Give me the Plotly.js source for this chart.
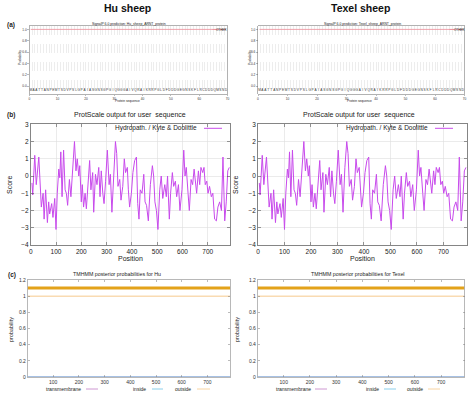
<!DOCTYPE html>
<html><head><meta charset="utf-8">
<script src="https://cdn.plot.ly/plotly-3.0.1.min.js"></script>
<style>html,body{margin:0;padding:0;background:#fff}#chart{width:474px;height:396px}</style>
</head><body><div id="chart"></div>
<script>
const W = 474, H = 396;

// ---------- (a) SignalP 6.0 : first 70 residues ----------
const huSeq    = "MAATTANPEMTSDVPSLGPAIASGNSGPGIQGGGAIVQRAIKRRPGLDFDDDGEGNSKFLRCDDDQMSND";
const texelSeq = "MAATTANPEMTSDVPSLGPAIASGNSGPGIQGGGAIVQRAIKRRPGLDFDDDGEGNSKFLRCDDDQMSND";
const signalTicks = [0, 10, 20, 30, 40, 50, 60, 70];
const signalProbTicks = [0, 0.2, 0.4, 0.6, 0.8, 1.0];
const otherProbHu    = [1,1,1,1,1,1,1,1,1,1,1,1,1,1,1,1,1,1,1,1,1,1,1,1,1,1,1,1,1,1,1,1,1,1,1,1,1,1,1,1,1,1,1,1,1,1,1,1,1,1,1,1,1,1,1,1,1,1,1,1,1,1,1,1,1,1,1,1,1,1];
const otherProbTexel = [1,1,1,1,1,1,1,1,1,1,1,1,1,1,1,1,1,1,1,1,1,1,1,1,1,1,1,1,1,1,1,1,1,1,1,1,1,1,1,1,1,1,1,1,1,1,1,1,1,1,1,1,1,1,1,1,1,1,1,1,1,1,1,1,1,1,1,1,1,1];

// ---------- (b) ProtScale Kyte & Doolittle hydropathy ----------
const hydroPos = [5,8,16,22,32,38,42,49,53,59,66,71,75,83,88,95,100,105,111,115,119,124,130,136,141,146,153,159,166,173,179,184,190,194,200,204,209,215,220,225,233,238,245,249,256,262,269,274,279,285,290,296,303,310,315,321,328,335,340,345,352,357,364,370,375,382,386,391,398,404,411,418,423,428,433,440,447,452,458,465,473,481,486,491,497,503,510,516,522,530,536,541,548,553,560,565,572,577,584,590,598,605,610,615,622,627,634,640,646,651,656,663,668,673,680,685,690,696,701,707,714,720,727,734,740,747,754,760,767,773,779,785];
const hydroHu = [-0.4,-1.1,1.2,-0.5,1.1,-0.3,-1.8,-1.0,-2.5,-0.8,-2.7,-1.5,-2.2,-1.6,-2.4,-1.3,-3.1,-1.0,0.4,-0.1,1.4,-1.2,1.5,-0.8,-1.0,-1.7,-0.2,-1.2,0.8,2.0,0.3,1.0,0.0,0.6,-1.5,-0.5,-1.8,-1.0,-1.9,-1.0,0.9,-0.8,0.2,-2.1,0.1,-0.5,0.5,-1.2,0.3,-1.0,-1.6,-0.3,1.5,-0.5,0.1,-2.1,0.5,2.0,1.3,-0.6,-0.2,-1.4,-0.6,1.0,0.2,0.5,-0.8,-1.8,-1.0,0.2,0.9,1.1,-1.6,-2.5,-0.8,-1.0,0.1,-1.5,-1.7,-2.6,-0.5,0.6,0.0,-1.5,-2.0,-3.1,-0.8,0.0,-1.3,-0.5,-1.2,0.0,-2.5,-1.0,0.2,-0.6,-0.3,-1.2,-0.5,-2.0,-0.8,1.5,0.0,0.5,-1.0,-2.0,-0.2,-0.5,0.4,-0.4,-1.0,0.3,-0.5,0.5,0.2,0.5,-0.5,-0.3,-1.0,-0.6,-1.2,-1.0,-2.5,-2.6,-1.8,-1.5,-2.0,1.1,-2.6,-1.5,0.3,0.5];
const hydroTexel = [-0.4,-1.1,1.2,-0.5,1.1,-0.3,-1.8,-1.0,-2.5,-0.8,-2.7,-1.5,-2.2,-1.6,-2.4,-1.3,-3.1,-1.0,0.4,-0.1,1.4,-1.2,1.5,-0.8,-1.0,-1.7,-0.2,-1.2,0.8,2.0,0.3,1.0,0.0,0.6,-1.5,-0.5,-1.8,-1.0,-1.9,-1.0,0.9,-0.8,0.2,-2.1,0.1,-0.5,0.5,-1.2,0.3,-1.0,-1.6,-0.3,1.5,-0.5,0.1,-2.1,0.5,2.0,1.3,-0.6,-0.2,-1.4,-0.6,1.0,0.2,0.5,-0.8,-1.8,-1.0,0.2,0.9,1.1,-1.6,-2.5,-0.8,-1.0,0.1,-1.5,-1.7,-2.6,-0.5,0.6,0.0,-1.5,-2.0,-3.1,-0.8,0.0,-1.3,-0.5,-1.2,0.0,-2.5,-1.0,0.2,-0.6,-0.3,-1.2,-0.5,-2.0,-0.8,1.5,0.0,0.5,-1.0,-2.0,-0.2,-0.5,0.4,-0.4,-1.0,0.3,-0.5,0.5,0.2,0.5,-0.5,-0.3,-1.0,-0.6,-1.2,-1.0,-2.5,-2.6,-1.8,-1.5,-2.0,1.1,-2.6,-1.5,0.3,0.5];

// ---------- (c) TMHMM posterior probabilities ----------
const tmPos = [1, 789];
const tmTransmembrane = [0, 0];
const tmInside = [0, 0];
const tmOutside = [1, 1];
const tmTopology = [1.1, 1.1];
const tmXTicks = [100, 200, 300, 400, 500, 600, 700];

// ---------- helpers ----------
const px = x => x / W, py = y => 1 - y / H;
const SANS = 'Liberation Sans, Arial, sans-serif';
const annotations = [];
function ann(text, x, y, size, o = {}) {
  annotations.push(Object.assign({
    text, x: px(x), y: py(y), xref: 'paper', yref: 'paper', showarrow: false,
    xanchor: 'center', yanchor: 'middle',
    font: { family: SANS, size, color: '#222' }
  }, o));
}
const shapes = [];
function sample(x0, x1, y, color, width) {
  shapes.push({ type: 'line', xref: 'paper', yref: 'paper', x0: px(x0), x1: px(x1), y0: py(y), y1: py(y), line: { color, width } });
}

const traces = [];
function signalTraces(seq, prob, xa, ya) {
  const letters = seq.split('');
  const pos = letters.map((_, i) => i + 0.5);
  traces.push({ x: pos, y: prob, xaxis: xa, yaxis: ya, mode: 'lines', line: { color: '#ec8d98', width: 0.8 }, hoverinfo: 'skip' });
  traces.push({ x: pos, y: letters.map(() => -0.075), text: letters, xaxis: xa, yaxis: ya, mode: 'text', textfont: { family: SANS, size: 3.2, color: '#333' }, hoverinfo: 'skip' });
}
signalTraces(huSeq, otherProbHu, 'x', 'y');
signalTraces(texelSeq, otherProbTexel, 'x2', 'y2');

const HYDRO = '#c84aec';
traces.push({ x: hydroPos, y: hydroHu, xaxis: 'x3', yaxis: 'y3', mode: 'lines', line: { color: HYDRO, width: 1 } });
traces.push({ x: hydroPos, y: hydroTexel, xaxis: 'x4', yaxis: 'y4', mode: 'lines', line: { color: HYDRO, width: 1 } });

function tmTraces(xa, ya) {
  traces.push({ x: tmPos, y: tmTopology, xaxis: xa, yaxis: ya, mode: 'lines', line: { color: '#e3a21a', width: 3 } });
  traces.push({ x: tmPos, y: tmOutside, xaxis: xa, yaxis: ya, mode: 'lines', line: { color: '#f6c98c', width: 1 } });
  traces.push({ x: tmPos, y: tmTransmembrane, xaxis: xa, yaxis: ya, mode: 'lines', line: { color: '#c27ec6', width: 1 } });
  traces.push({ x: tmPos, y: tmInside, xaxis: xa, yaxis: ya, mode: 'lines', line: { color: '#6fc3e6', width: 1.2 } });
}
tmTraces('x5', 'y5');
tmTraces('x6', 'y6');

// ---------- axes ----------
function sigX(d0, d1, anchor) {
  return { domain: [px(d0), px(d1)], anchor, range: [0, 70], tickvals: signalTicks, tickfont: { family: SANS, size: 3.2, color: '#333' },
    ticks: 'outside', ticklen: 1.5, tickwidth: 0.4, tickcolor: '#555', showline: true, mirror: true, linecolor: '#666', linewidth: 0.5,
    showgrid: false, zeroline: false, fixedrange: true,
    minor: { dtick: 1, tick0: 0, showgrid: true, gridcolor: '#d2d2d2', griddash: 'dash', gridwidth: 0.4 } };
}
function sigY(anchor) {
  return { domain: [py(94), py(26)], anchor, range: [-0.14, 1.06], tickvals: signalProbTicks, tickformat: '.1f',
    tickfont: { family: SANS, size: 3.2, color: '#333' }, ticks: 'outside', ticklen: 1.5, tickwidth: 0.4, tickcolor: '#555',
    showline: true, mirror: true, linecolor: '#666', linewidth: 0.5, showgrid: false, zeroline: false, fixedrange: true };
}
function psX(d0, d1, anchor) {
  return { domain: [px(d0), px(d1)], anchor, range: [0, 789], dtick: 100, tick0: 0, tickfont: { family: SANS, size: 6.5, color: '#222' },
    ticks: 'inside', ticklen: 3, tickwidth: 0.6, tickcolor: '#555', showline: true, mirror: 'ticks', linecolor: '#666', linewidth: 0.8,
    showgrid: true, gridcolor: '#dedede', gridwidth: 0.6, zeroline: false, fixedrange: true };
}
function psY(anchor) {
  return { domain: [py(245), py(124.3)], anchor, range: [-4, 3], dtick: 1, tick0: 0, tickfont: { family: SANS, size: 6.5, color: '#222' },
    ticks: 'inside', ticklen: 3, tickwidth: 0.6, tickcolor: '#555', showline: true, mirror: 'ticks', linecolor: '#666', linewidth: 0.8,
    showgrid: true, gridcolor: '#dedede', gridwidth: 0.6, zeroline: false, fixedrange: true };
}
function tmX(d0, d1, anchor) {
  return { domain: [px(d0), px(d1)], anchor, range: [0, 789], tickvals: tmXTicks, tickfont: { family: SANS, size: 5, color: '#333' },
    ticks: 'inside', ticklen: 2, tickwidth: 0.5, tickcolor: '#777', showline: true, mirror: 'ticks', linecolor: '#888', linewidth: 0.6,
    showgrid: false, zeroline: false, fixedrange: true, ticklabelstandoff: 0 };
}
function tmY(anchor) {
  return { domain: [py(377), py(280)], anchor, range: [0, 1.2], dtick: 0.2, tick0: 0, tickfont: { family: SANS, size: 5, color: '#333' },
    ticks: 'inside', ticklen: 2, tickwidth: 0.5, tickcolor: '#777', showline: true, mirror: 'ticks', linecolor: '#888', linewidth: 0.6,
    showgrid: false, zeroline: false, fixedrange: true };
}

// ---------- text ----------
ann('<b>Hu sheep</b>', 128, 8, 10.5, { font: { family: SANS, size: 10.5, color: '#111' } });
ann('<b>Texel sheep</b>', 360, 8, 10.5, { font: { family: SANS, size: 10.5, color: '#111' } });
ann('<b>(a)</b>', 11, 25, 6.5);
ann('<b>(b)</b>', 11, 115, 6.5);
ann('<b>(c)</b>', 12, 275, 6.5);

// (a)
ann('SignalP 6.0 prediction: Hu_sheep_ARNT_protein', 129, 24, 3.4);
ann('SignalP 6.0 prediction: Texel_sheep_ARNT_protein', 362, 24, 3.4);
ann('Protein sequence', 127, 101.5, 3.2);
ann('Protein sequence', 359, 101.5, 3.2);
ann('Probability', 20, 58, 3.2, { textangle: -90 });
ann('Probability', 250, 58, 3.2, { textangle: -90 });
ann('OTHER', 221.5, 29.5, 3, { xanchor: 'center' });
ann('OTHER', 459, 29.5, 3, { xanchor: 'center' });
sample(212.5, 217.5, 29.5, '#ec8d98', 0.8);
sample(449.5, 454.5, 29.5, '#ec8d98', 0.8);

// (b)
ann('ProtScale output for user  sequence', 130, 115, 7);
ann('ProtScale output for user  sequence', 359, 115, 7);
ann('Position', 130, 258, 7);
ann('Position', 362, 258, 7);
ann('Score', 10, 185, 7, { textangle: -90 });
ann('Score', 236, 185, 7, { textangle: -90 });
ann('Hydropath. / Kyte &amp; Doolittle', 199, 128.3, 6.5, { xanchor: 'right' });
ann('Hydropath. / Kyte &amp; Doolittle', 430, 128.3, 6.5, { xanchor: 'right' });
sample(204, 222, 128.3, HYDRO, 1);
sample(435, 453, 128.3, HYDRO, 1);

// (c)
ann('TMHMM posterior probabilities for Hu', 117, 274, 5.3);
ann('TMHMM posterior probabilities for Texel', 358, 274, 5.3);
ann('probability', 11, 330, 5.5, { textangle: -90 });
ann('probability', 237, 330, 5.5, { textangle: -90 });
[[0, 83, 86, 98, 148, 152, 163, 193, 197, 210, 389], [237, 313, 315, 327, 381, 384, 396, 425, 428, 440, 389]].forEach(r => {
  ann('transmembrane', r[1], r[10], 5, { xanchor: 'right' });
  sample(r[2], r[3], r[10], '#c27ec6', 0.8);
  ann('inside', r[4], r[10], 5, { xanchor: 'right' });
  sample(r[5], r[6], r[10], '#6fc3e6', 0.8);
  ann('outside', r[7], r[10], 5, { xanchor: 'right' });
  sample(r[8], r[9], r[10], '#f6c98c', 0.8);
});

const layout = {
  width: W, height: H, margin: { l: 0, r: 0, t: 0, b: 0 }, showlegend: false,
  paper_bgcolor: '#fff', plot_bgcolor: '#fff', font: { family: SANS },
  xaxis: sigX(29.3, 227.5, 'y'), yaxis: sigY('x'),
  xaxis2: sigX(258, 464.5, 'y2'), yaxis2: sigY('x2'),
  xaxis3: psX(30.7, 230.3, 'y3'), yaxis3: psY('x3'),
  xaxis4: psX(258, 467, 'y4'), yaxis4: psY('x4'),
  xaxis5: tmX(27.5, 230.3, 'y5'), yaxis5: tmY('x5'),
  xaxis6: tmX(257.5, 464.5, 'y6'), yaxis6: tmY('x6'),
  annotations, shapes
};
Plotly.newPlot('chart', traces, layout, { staticPlot: true, displayModeBar: false });
</script></body></html>
